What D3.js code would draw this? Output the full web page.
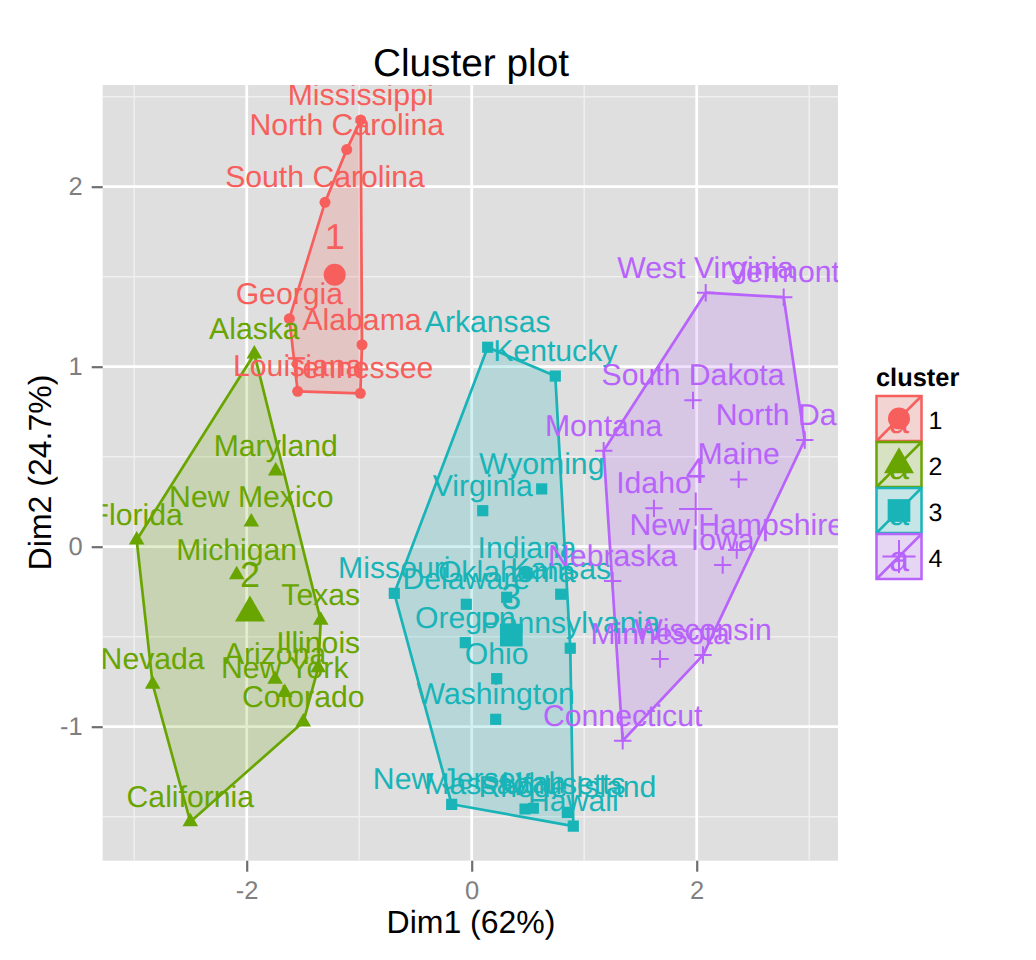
<!DOCTYPE html>
<html>
<head>
<meta charset="utf-8">
<script src="https://cdn.jsdelivr.net/npm/d3@7"></script>
<style>
  html, body { margin: 0; padding: 0; background: #fff; }
  text { font-family: "Liberation Sans", Arial, sans-serif; text-rendering: geometricPrecision; }
</style>
</head>
<body>
<svg id="chart" width="1036" height="960"></svg>
<script>
/* Data */
const clusterIds = ['1', '2', '3', '4'];

const states1 = ['Mississippi', 'North Carolina', 'South Carolina', 'Georgia', 'Alabama', 'Louisiana', 'Tennessee'];
const dim1Cluster1 = [-0.987, -1.111, -1.304, -1.621, -0.975, -1.547, -0.99];
const dim2Cluster1 = [2.371, 2.206, 1.913, 1.267, 1.122, 0.863, 0.852];

const states2 = ['Alaska', 'Maryland', 'New Mexico', 'Florida', 'Michigan', 'Texas', 'Illinois', 'Arizona', 'New York', 'Colorado', 'Nevada', 'California'];
const dim1Cluster2 = [-1.932, -1.742, -1.959, -2.978, -2.089, -1.342, -1.364, -1.748, -1.662, -1.497, -2.836, -2.501];
const dim2Cluster2 = [1.071, 0.421, 0.137, 0.037, -0.156, -0.409, -0.672, -0.737, -0.81, -0.974, -0.764, -1.528];

const states3 = ['Arkansas', 'Kentucky', 'Wyoming', 'Virginia', 'Missouri', 'Delaware', 'Oregon', 'Ohio', 'Washington', 'Indiana', 'Oklahoma', 'Kansas', 'Pennsylvania', 'New Jersey', 'Massachusetts', 'Utah', 'Rhode Island', 'Hawaii'];
const dim1Cluster3 = [0.142, 0.743, 0.622, 0.098, -0.688, -0.048, -0.057, 0.222, 0.213, 0.492, 0.311, 0.791, 0.876, -0.178, 0.474, 0.548, 0.85, 0.903];
const dim2Cluster3 = [1.108, 0.948, 0.321, 0.2, -0.259, -0.32, -0.533, -0.733, -0.959, -0.148, -0.281, -0.264, -0.564, -1.431, -1.457, -1.453, -1.476, -1.552];

const states4 = ['West Virginia', 'Vermont', 'South Dakota', 'North Dakota', 'Montana', 'Maine', 'Idaho', 'New Hampshire', 'Iowa', 'Nebraska', 'Minnesota', 'Wisconsin', 'Connecticut'];
const dim1Cluster4 = [2.08, 2.773, 1.967, 2.96, 1.173, 2.373, 1.62, 2.356, 2.231, 1.253, 1.674, 2.056, 1.342];
const dim2Cluster4 = [1.411, 1.386, 0.813, 0.593, 0.533, 0.374, 0.213, -0.018, -0.102, -0.191, -0.624, -0.602, -1.078];

const centerDim1 = [-1.218, -1.971, 0.352, 1.991];
const centerDim2 = [1.511, -0.367, -0.491, 0.209];

const xTicks = [-2, 0, 2];
const yTicks = [-1, 0, 1, 2];
const xMinorTicks = [-3, -1, 1, 3];
const yMinorTicks = [-1.5, -0.5, 0.5, 1.5, 2.5];

const clusterColors = ['#f65f5c', '#69a500', '#18b4b8', '#b863fb'];
const clusterSymbols = [d3.symbolCircle, d3.symbolTriangle, d3.symbolSquare, d3.symbolPlus];
const pointSizes = [95, 105, 125, 101];
const centerSizes = [380, 390, 515, 362];

const clusters = [
  { states: states1, dim1: dim1Cluster1, dim2: dim2Cluster1 },
  { states: states2, dim1: dim1Cluster2, dim2: dim2Cluster2 },
  { states: states3, dim1: dim1Cluster3, dim2: dim2Cluster3 },
  { states: states4, dim1: dim1Cluster4, dim2: dim2Cluster4 },
];

const panel = { left: 102.7, right: 838, top: 85, bottom: 860.7 };

const xScale = d3.scaleLinear().domain([-3.28, 3.2558]).range([panel.left, panel.right]);
const yScale = d3.scaleLinear().domain([-1.7444, 2.5650]).range([panel.bottom, panel.top]);

const svg = d3.select('#chart');

/* Clip so labels stop at the panel edge */
svg.append('defs').append('clipPath')
    .attr('id', 'panel-clip')
    .append('rect')
    .attr('x', panel.left)
    .attr('y', panel.top)
    .attr('width', panel.right - panel.left)
    .attr('height', panel.bottom - panel.top);

svg.append('rect')
    .attr('x', panel.left)
    .attr('y', panel.top)
    .attr('width', panel.right - panel.left)
    .attr('height', panel.bottom - panel.top)
    .attr('fill', '#dfdfdf');

/* Grid lines */
let gridD3 = svg.append('g').attr('class', 'grid-lines');

function drawGrid(values, isX, width, color) {
  gridD3.append('g')
      .selectAll('line')
      .data(values)
      .join('line')
      .attr('x1', d => isX ? xScale(d) : panel.left)
      .attr('x2', d => isX ? xScale(d) : panel.right)
      .attr('y1', d => isX ? panel.top : yScale(d))
      .attr('y2', d => isX ? panel.bottom : yScale(d))
      .attr('stroke', color)
      .attr('stroke-width', width);
}

drawGrid(xMinorTicks, true, 1.4, '#f0f0f0');
drawGrid(yMinorTicks, false, 1.4, '#f0f0f0');
drawGrid(xTicks, true, 2.8, '#ffffff');
drawGrid(yTicks, false, 2.8, '#ffffff');

/* Axes */
function styleAxis(axisD3) {
  axisD3.select('.domain').remove();
  axisD3.selectAll('.tick line').attr('stroke', '#6e6e6e').attr('stroke-width', 2.2);
  axisD3.selectAll('.tick text')
      .attr('fill', '#7f7f7f')
      .style('font-size', '25.5px')
      .style('font-family', '"Liberation Sans", Arial, sans-serif');
}

let xAxisD3 = svg.append('g')
    .attr('class', 'x-axis')
    .attr('transform', `translate(0,${panel.bottom})`)
    .call(d3.axisBottom(xScale).tickValues(xTicks).tickSize(11).tickPadding(9).tickFormat(d => String(d)));
styleAxis(xAxisD3);

let yAxisD3 = svg.append('g')
    .attr('class', 'y-axis')
    .attr('transform', `translate(${panel.left},0)`)
    .call(d3.axisLeft(yScale).tickValues(yTicks).tickSize(11).tickPadding(9).tickFormat(d => String(d)));
styleAxis(yAxisD3);

/* Convex hulls */
let hullsD3 = svg.append('g').attr('class', 'hulls').attr('clip-path', 'url(#panel-clip)');
clusters.forEach((cluster, i) => {
  let pixels = cluster.dim1.map((d, j) => [xScale(d), yScale(cluster.dim2[j])]);
  hullsD3.append('path')
      .attr('d', 'M' + d3.polygonHull(pixels).join('L') + 'Z')
      .attr('fill', clusterColors[i])
      .attr('fill-opacity', 0.2)
      .attr('stroke', clusterColors[i])
      .attr('stroke-width', 2.7)
      .attr('stroke-linejoin', 'round');
});

function symbolMark(parentD3, type, size, color) {
  let isPlus = type === d3.symbolPlus;
  return parentD3.append('path')
      .attr('d', d3.symbol().type(type).size(size)())
      .attr('fill', isPlus ? 'none' : color)
      .attr('stroke', isPlus ? color : 'none')
      .attr('stroke-width', isPlus ? 2 : 0);
}

/* Points and state labels */
let dataD3 = svg.append('g').attr('class', 'data').attr('clip-path', 'url(#panel-clip)');
clusters.forEach((cluster, i) => {
  cluster.states.forEach((state, j) => {
    symbolMark(dataD3, clusterSymbols[i], pointSizes[i], clusterColors[i])
        .attr('transform', `translate(${xScale(cluster.dim1[j])},${yScale(cluster.dim2[j])})`);
  });
});
clusters.forEach((cluster, i) => {
  dataD3.append('g')
      .selectAll('text')
      .data(cluster.states)
      .join('text')
      .attr('x', (d, j) => xScale(cluster.dim1[j]))
      .attr('y', (d, j) => yScale(cluster.dim2[j]) - 15)
      .attr('text-anchor', 'middle')
      .attr('font-size', 30.2)
      .attr('fill', clusterColors[i])
      .text(d => d);
});

/* Cluster centers */
clusterIds.forEach((id, i) => {
  let cx = xScale(centerDim1[i]);
  let cy = yScale(centerDim2[i]);
  symbolMark(dataD3, clusterSymbols[i], centerSizes[i], clusterColors[i])
      .attr('transform', `translate(${cx},${cy})`);
  dataD3.append('text')
      .attr('x', cx)
      .attr('y', cy - 26)
      .attr('text-anchor', 'middle')
      .attr('font-size', 36)
      .attr('fill', clusterColors[i])
      .text(id);
});

/* Titles */
svg.append('text')
    .attr('x', 471)
    .attr('y', 75.5)
    .attr('text-anchor', 'middle')
    .attr('font-size', 38.8)
    .attr('fill', '#000')
    .text('Cluster plot');

svg.append('text')
    .attr('x', 471)
    .attr('y', 932.5)
    .attr('text-anchor', 'middle')
    .attr('font-size', 32)
    .attr('fill', '#000')
    .text('Dim1 (62%)');

svg.append('text')
    .attr('transform', 'translate(51,472.5) rotate(-90)')
    .attr('text-anchor', 'middle')
    .attr('font-size', 32)
    .attr('fill', '#000')
    .text('Dim2 (24.7%)');

/* Legend */
const keySize = 46;
let legendD3 = svg.append('g').attr('class', 'legend').attr('transform', 'translate(876,395.5)');

legendD3.append('text')
    .attr('x', 0)
    .attr('y', -9.5)
    .attr('font-size', 25.4)
    .attr('font-weight', 'bold')
    .attr('fill', '#000')
    .text('cluster');

clusterIds.forEach((id, i) => {
  let keyD3 = legendD3.append('g').attr('transform', `translate(0,${i * keySize})`);
  keyD3.append('rect')
      .attr('x', 0.5)
      .attr('y', 0.5)
      .attr('width', keySize - 1)
      .attr('height', keySize - 1)
      .attr('fill', '#f2f2f2');
  keyD3.append('rect')
      .attr('x', 0.5)
      .attr('y', 0.5)
      .attr('width', keySize - 1)
      .attr('height', keySize - 1)
      .attr('fill', clusterColors[i])
      .attr('fill-opacity', 0.2)
      .attr('stroke', clusterColors[i])
      .attr('stroke-width', 2.5);
  keyD3.append('line')
      .attr('x1', 0.5)
      .attr('y1', keySize - 0.5)
      .attr('x2', keySize - 0.5)
      .attr('y2', 0.5)
      .attr('stroke', clusterColors[i])
      .attr('stroke-width', 2.5);
  keyD3.append('text')
      .attr('x', keySize / 2)
      .attr('y', keySize / 2 + 14.5)
      .attr('text-anchor', 'middle')
      .attr('font-size', 36)
      .attr('fill', clusterColors[i])
      .text('a');
  symbolMark(keyD3, clusterSymbols[i], centerSizes[i], clusterColors[i])
      .attr('transform', `translate(${keySize / 2},${keySize / 2})`);
  legendD3.append('text')
      .attr('x', 52.5)
      .attr('y', i * keySize + keySize / 2 + 10.5)
      .attr('font-size', 25)
      .attr('fill', '#000')
      .text(id);
});
</script>
</body>
</html>
